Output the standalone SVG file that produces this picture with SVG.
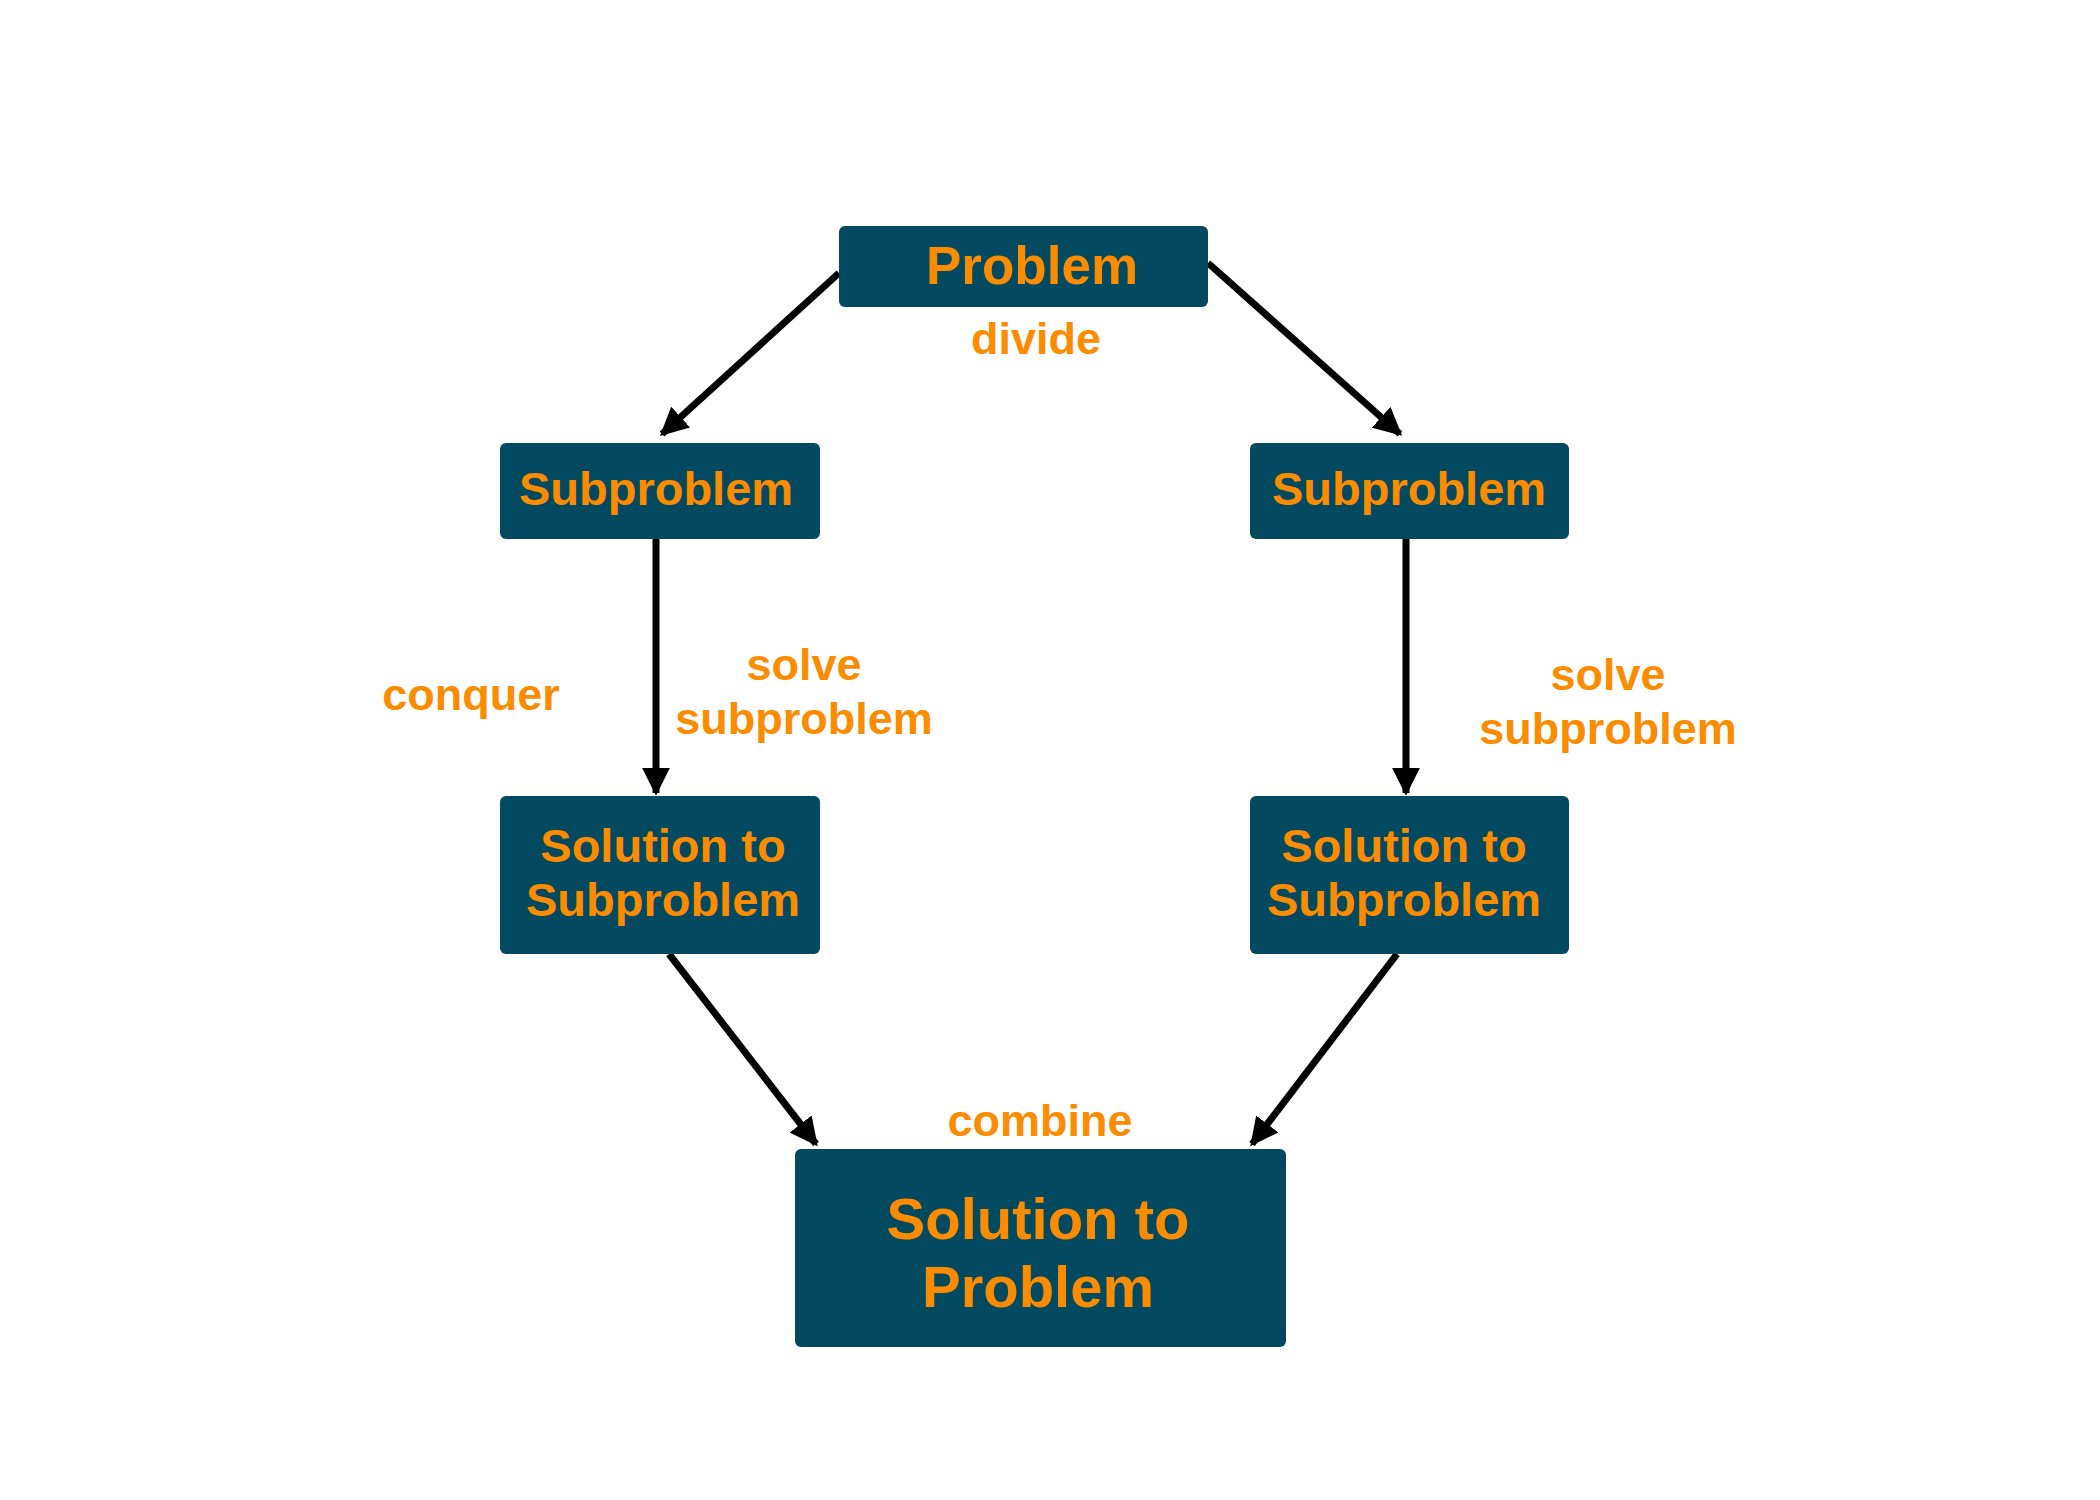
<svg xmlns="http://www.w3.org/2000/svg" width="2100" height="1500" viewBox="0 0 2100 1500">
<style>
.box{fill:#03495f}
.t{font-family:"Liberation Sans",Arial,sans-serif;font-weight:bold;fill:#fb8c00;text-anchor:middle}
.edge{stroke:#000;stroke-width:7;fill:none;marker-end:url(#ah)}
</style>
<defs><marker id="ah" viewBox="0 0 10 10" refX="9" refY="5" markerWidth="4" markerHeight="4" orient="auto" markerUnits="strokeWidth"><path d="M0,0L10,5L0,10z" fill="#000"/></marker></defs>
<rect width="2100" height="1500" fill="#fff"/>
<g id="connectors">
<line class="edge" x1="839" y1="273" x2="662" y2="434"/>
<line class="edge" x1="1208" y1="263" x2="1400" y2="434"/>
<line class="edge" x1="656" y1="539" x2="656" y2="793"/>
<line class="edge" x1="1406" y1="539" x2="1406" y2="793"/>
<line class="edge" x1="669" y1="954" x2="816" y2="1144"/>
<line class="edge" x1="1397" y1="954" x2="1252" y2="1144"/>
</g>
<g id="problem"><rect class="box" x="839" y="226" width="369" height="81" rx="6"/><text class="t" x="1032" y="284" font-size="53">Problem</text></g>
<g id="sub1"><rect class="box" x="500" y="443" width="320" height="96" rx="6"/><text class="t" x="656" y="505" font-size="47">Subproblem</text></g>
<g id="sub2"><rect class="box" x="1250" y="443" width="319" height="96" rx="6"/><text class="t" x="1409" y="505" font-size="47">Subproblem</text></g>
<g id="sol1"><rect class="box" x="500" y="796" width="320" height="158" rx="6"/><text class="t" x="663" y="862" font-size="47">Solution to</text><text class="t" x="663" y="916" font-size="47">Subproblem</text></g>
<g id="sol2"><rect class="box" x="1250" y="796" width="319" height="158" rx="6"/><text class="t" x="1404" y="862" font-size="47">Solution to</text><text class="t" x="1404" y="916" font-size="47">Subproblem</text></g>
<g id="final"><rect class="box" x="795" y="1149" width="491" height="198" rx="6"/><text class="t" x="1038" y="1239" font-size="58">Solution to</text><text class="t" x="1038" y="1307" font-size="58">Problem</text></g>
<g id="labels">
<text class="t" x="1036" y="354" font-size="45">divide</text>
<text class="t" x="471" y="710" font-size="45">conquer</text>
<text class="t" x="804" y="680" font-size="45">solve</text>
<text class="t" x="804" y="734" font-size="45">subproblem</text>
<text class="t" x="1608" y="690" font-size="45">solve</text>
<text class="t" x="1608" y="744" font-size="45">subproblem</text>
<text class="t" x="1040" y="1136" font-size="45">combine</text>
</g>
</svg>
